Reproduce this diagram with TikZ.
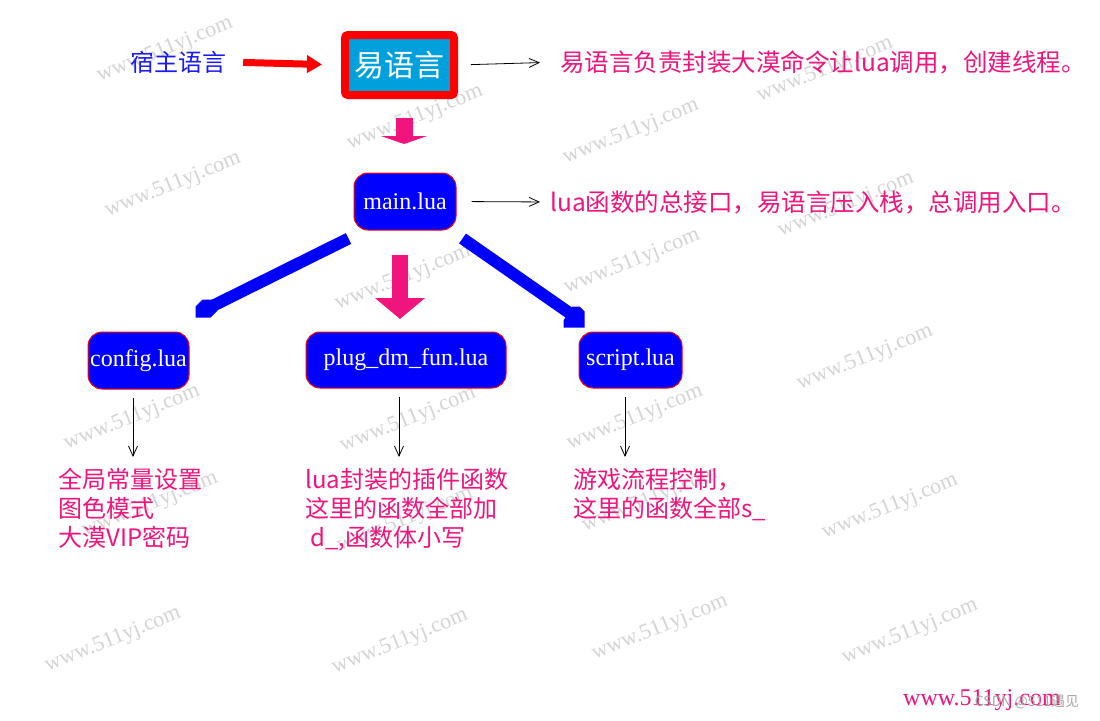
\documentclass[tikz,border=0pt]{standalone}
\usepackage{fontspec}
\setmainfont{Liberation Serif}
\newfontfamily\cjk{Noto Sans CJK SC}
\usetikzlibrary{arrows.meta,calc}
\definecolor{hotpink}{RGB}{240,20,125}
\definecolor{boxblue}{RGB}{0,0,255}
\definecolor{cyanfill}{RGB}{0,160,220}
\definecolor{wmgray}{RGB}{212,212,212}
\definecolor{hostblue}{RGB}{25,25,240}
\begin{document}
\begin{tikzpicture}[x=1pt,y=-1pt,
  filebox/.style={draw=red, line width=1pt, fill=boxblue, rounded corners=14pt,
    text=white, font=\fontsize{24}{28}\selectfont, inner sep=0pt, minimum height=57pt},
  yibox/.style={draw=red, line width=8pt, fill=cyanfill, rounded corners=3pt,
    text=white, font=\cjk\fontsize{30}{36}\selectfont,
    minimum width=109pt, minimum height=60pt, inner sep=0pt},
  desc/.style={text=hotpink, font=\cjk\fontsize{24.5}{29}\selectfont, inner sep=0pt, anchor=west},
  note/.style={text=hotpink, font=\cjk\fontsize{24}{29}\selectfont, inner sep=0pt,
    anchor=north west, align=left},
  thinarrow/.style={draw=black, line width=0.8pt, -{Straight Barb[length=10pt,width=9pt]}},
  wm/.style={text=wmgray, font=\fontsize{22}{26}\selectfont, rotate=22, inner sep=0pt},
  bluebar/.style={draw=boxblue, line width=12pt},
  bluehead/.style={fill=boxblue}
]
\useasboundingbox (0,0) rectangle (1100,720);
\fill[white] (0,0) rectangle (1100,720);

% watermarks
\foreach \px/\py [count=\i] in {165/50, 415/118, 173/185, 631/132, 825/70, 846/205,
   403/278, 632/262, 865/358, 132/418, 408/420, 635/418, 890/507, 150/505,
   405/520, 650/500, 113/640, 400/642, 660/628, 910/632}
  \node[wm] (wm\i) at (\px,\py) {www.511yj.com};

% top row
\node[text=hostblue, font=\cjk\fontsize{24}{29}\selectfont, inner sep=0pt] (host) at (178,62) {宿主语言};
\node[yibox] (yi) at (399.5,65) {易语言};
\node[desc] (d1) at (560,62) {易语言负责封装大漠命令让lua调用，创建线程。};

\draw[red, line width=7pt, -{Triangle[length=15pt,width=17pt]}, shorten <=17pt, shorten >=19pt] (host.east) -- (yi.west);
\draw[thinarrow, shorten <=13pt, shorten >=20pt] (yi.east) -- (d1.west);

% main.lua
\node[filebox, minimum width=102pt] (main) at (405,201.5) {main.lua};
\node[desc] (d2) at (550,202) {lua函数的总接口，易语言压入栈，总调用入口。};
\draw[thinarrow, shorten <=15pt, shorten >=10pt] (main.east) -- (d2.west);

\draw[hotpink, line width=17pt, -{Triangle[length=8pt,width=46pt]}, shorten <=19pt, shorten >=28.5pt]
  ([xshift=4.5pt]yi.south) -- ([xshift=-1pt]main.north);

% second row
\node[filebox, minimum width=101pt] (config) at (138.5,360.5) {config.lua};
\node[filebox, minimum width=200pt, minimum height=56pt] (plug) at (406,360) {plug\_dm\_fun.lua};
\node[filebox, minimum width=103pt, minimum height=56pt] (script) at (630.5,360) {script.lua};

\draw[hotpink, line width=16pt, -{Triangle[length=21pt,width=49pt]}, shorten <=24.5pt, shorten >=12.5pt]
  ([xshift=-5pt]main.south) -- ([xshift=-6pt]plug.north);

\draw[bluebar] ($(main.south west)+(-5,8)$) -- ($(config.north east)+(18,-23)$);
\fill[bluehead] ($(config.north east)+(6,-14)$) -- ++(0,-11) -- ++(7,-7) -- ++(15,0) -- ++(0,11) -- ++(-7,7) -- cycle;
\draw[bluebar] ($(main.south east)+(6,8)$) -- ($(script.north west)+(-4,-15)$);
\fill[bluehead] ($(script.north west)+(-15,-4)$) -- ++(0,-7) -- ++(9,-14) -- ++(7,0) -- ++(5,5) -- ++(0,16) -- cycle;

% notes
\node[note] (n1) at (58,468) {全局常量设置\\图色模式\\大漠VIP密码};
\node[note] (n2) at (305,468) {lua封装的插件函数\\这里的函数全部加\\\hspace*{5pt}d\_,函数体小写};
\node[note] (n3) at (573,468) {游戏流程控制，\\这里的函数全部s\_};

\draw[thinarrow, shorten <=8.5pt, shorten >=11pt] ([xshift=-5.5pt]config.south) -- ([xshift=-5.5pt]config.south |- n1.north);
\draw[thinarrow, shorten <=8.5pt, shorten >=11pt] ([xshift=-7pt]plug.south) -- ([xshift=-7pt]plug.south |- n2.north);
\draw[thinarrow, shorten <=8.5pt, shorten >=11pt] ([xshift=-5.5pt]script.south) -- ([xshift=-5.5pt]script.south |- n3.north);

% footer
\node[text=hotpink, font=\fontsize{24}{28}\selectfont, inner sep=0pt, anchor=base west] (site) at (903,705) {www.511yj.com};
\node[text=gray!70, font=\cjk\fontsize{14}{16}\selectfont, inner sep=0pt] (csdn) at (1027,702) {CSDN @511遇见};
\end{tikzpicture}
\end{document}
